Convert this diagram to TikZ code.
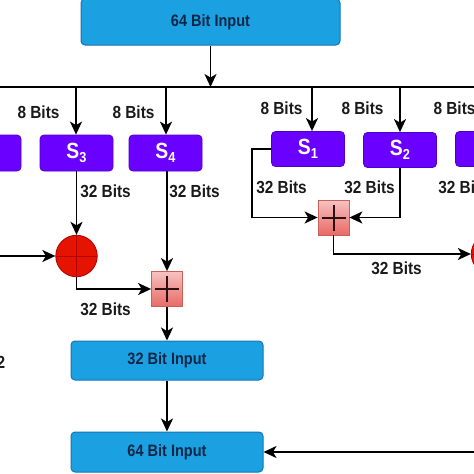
\documentclass[tikz,border=0pt]{standalone}
\usepackage{fontspec}
\setmainfont{Liberation Sans}
\newfontfamily\cfont[FakeStretch=0.88]{Liberation Sans}
\usetikzlibrary{arrows.meta}
\definecolor{bluefill}{HTML}{1BA1E2}
\definecolor{bluedraw}{HTML}{1673B5}
\definecolor{navy}{HTML}{0E2746}
\definecolor{purplefill}{HTML}{6A00FF}
\definecolor{purpledraw}{HTML}{4A00CC}
\definecolor{xorfill}{HTML}{E51400}
\definecolor{xordraw}{HTML}{B20000}
\definecolor{sqtop}{HTML}{F6C2C0}
\definecolor{sqbot}{HTML}{E86A66}
\definecolor{sqdraw}{HTML}{C8605C}
\definecolor{pluscol}{HTML}{2A1010}
\definecolor{lblcol}{HTML}{1A1A1A}
\newcommand{\Slab}[1]{{\fontsize{22}{22}\selectfont S}\raisebox{-4pt}{\fontsize{14.5}{14.5}\selectfont #1}}
\begin{document}
\begin{tikzpicture}[x=1pt,y=-1pt,
  conn/.style={line width=1.8pt, black},
  arr/.style={conn, -{Stealth[length=13pt,width=12pt,inset=3.5pt]}},
  bluebox/.style={draw=bluedraw, fill=bluefill, rounded corners=4pt, line width=1pt,
    inner sep=0pt, text=navy, font={\cfont\bfseries\fontsize{16.5}{16.5}\selectfont}},
  sbox/.style={draw=purpledraw, fill=purplefill, rounded corners=4pt, line width=0.8pt,
    inner sep=0pt, minimum width=73pt, minimum height=36pt, text=white,
    font={\cfont\bfseries}},
  xorc/.style={circle, draw=xordraw, fill=xorfill, line width=0.8pt, inner sep=0pt,
    minimum size=41.5pt,
    path picture={\draw[xordraw, line width=1pt]
      (path picture bounding box.north) -- (path picture bounding box.south)
      (path picture bounding box.west) -- (path picture bounding box.east);}},
  addsq/.style={draw=sqdraw, top color=sqtop, bottom color=sqbot, line width=0.8pt,
    inner sep=0pt, minimum width=31pt, minimum height=35pt,
    path picture={\draw[pluscol, line width=2pt]
      ([xshift=-12pt]path picture bounding box.center) -- ([xshift=12pt]path picture bounding box.center)
      ([yshift=-13pt]path picture bounding box.center) -- ([yshift=13pt]path picture bounding box.center);}},
  lbl/.style={inner sep=0pt, text=lblcol, font={\cfont\bfseries\fontsize{17.5}{17.5}\selectfont}}
]
\useasboundingbox (0,0) rectangle (474,474);
\clip (0,0) rectangle (474,474);

% top input
\node[bluebox, minimum width=259pt, minimum height=46pt] (in64) at (210.5,22) {64 Bit Input};
\coordinate (j) at (210.5,87);
\coordinate (hl) at (-60,87);
\coordinate (hr) at (540,87);
\draw[arr] (in64) -- (j);
\draw[conn] (hl) -- (hr);

% S boxes
\node[sbox] (s0) at (-15.5,153) {};
\node[sbox] (s3) at (76.5,153) {\Slab{3}};
\node[sbox] (s4) at (165.5,153) {\Slab{4}};
\node[sbox, minimum height=35pt] (s1) at (308,149) {\Slab{1}};
\node[sbox, minimum height=35pt] (s2) at (400,150) {\Slab{2}};
\node[sbox, minimum height=35pt] (s5) at (492,149) {};

% branch arrows
\coordinate (b0) at (-15.5,87);
\coordinate (b3) at (76,87);
\coordinate (b4) at (166,87);
\coordinate (b1) at (312,87);
\coordinate (b2) at (400,87);
\coordinate (b5) at (492,87);
\draw[arr] (b0) -- (b0 |- s0.north);
\draw[arr] (b3) -- (b3 |- s3.north);
\draw[arr] (b4) -- (b4 |- s4.north);
\draw[arr] (b1) -- (b1 |- s1.north);
\draw[arr] (b2) -- (b2 |- s2.north);
\draw[arr] (b5) -- (b5 |- s5.north);

% 8 Bits labels
\node[lbl] (e3) at (38.5,112) {8 Bits};
\node[lbl] (e4) at (133.5,112) {8 Bits};
\node[lbl] (e1) at (281.5,108) {8 Bits};
\node[lbl] (e2) at (362.5,108) {8 Bits};
\node[lbl] (e5) at (454.5,108) {8 Bits};

% left part
\node[xorc] (xl) at (76.5,256) {};
\node[addsq] (addl) at (167,289) {};
\coordinate (lin) at (-20,256);
\draw[arr] (lin) -- (xl.west);
\draw[arr] (s3.south -| xl) -- (xl.north);
\draw[arr] (s4.south -| addl) -- (addl.north);
\draw[arr] (xl.south) |- (addl.west);
\node[lbl] (t3) at (105.5,191) {32 Bits};
\node[lbl] (t4) at (194.5,191) {32 Bits};
\node[lbl] (tx) at (105.5,309) {32 Bits};

% bottom boxes
\node[bluebox, minimum width=192pt, minimum height=39pt] (in32) at (167,360.5) {32 Bit Input};
\node[bluebox, minimum width=192pt, minimum height=40pt] (out64) at (167,452) {64 Bit Input};
\draw[arr] (addl.south) -- (in32.north);
\draw[arr] (in32.south) -- (out64.north);
\coordinate (rin) at (520,452);
\draw[arr] (rin) -- (out64.east);
\node[lbl, anchor=east] (two) at (5.5,362) {2};

% right part
\node[addsq] (addr) at (333.5,217.5) {};
\node[xorc] (xr) at (492,254) {};
\coordinate (k1) at (252,149);
\draw[arr] (s1.west) -- (k1) |- (addr.west);
\draw[arr] (s2.south) |- (addr.east);
\draw[arr] (addr.south) |- (xr.west);
\node[lbl] (t1) at (281.5,187) {32 Bits};
\node[lbl] (t2) at (369.5,187) {32 Bits};
\node[lbl] (t5) at (463.5,187) {32 Bits};
\node[lbl] (ta) at (396.5,268) {32 Bits};
\end{tikzpicture}
\end{document}
